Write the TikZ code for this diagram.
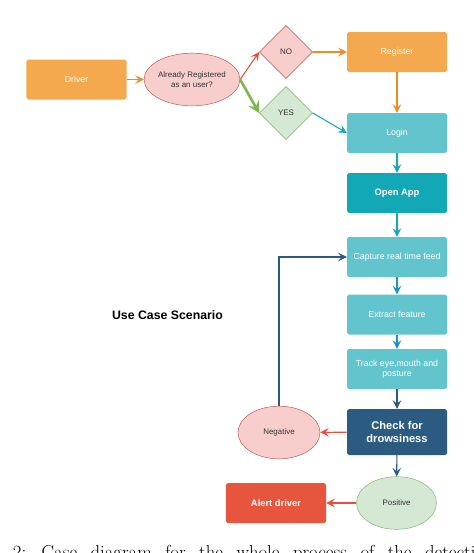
\documentclass[tikz,border=0pt]{standalone}
\usepackage{fontspec}
\newfontfamily\flowfont{Liberation Sans}
\usepackage{tikz}
\usetikzlibrary{shapes.geometric}
\usetikzlibrary{arrows.meta}
\definecolor{boxorange}{HTML}{F4A94F}
\definecolor{arroworange}{HTML}{F08A24}
\definecolor{queryfill}{HTML}{F8CECC}
\definecolor{querystroke}{HTML}{B85450}
\definecolor{answerfill}{HTML}{D5E8D4}
\definecolor{answerstroke}{HTML}{82B366}
\definecolor{lightteal}{HTML}{62C5CD}
\definecolor{darkteal}{HTML}{12A8B6}
\definecolor{nightblue}{HTML}{2B5B80}
\definecolor{alertred}{HTML}{E8553F}
\definecolor{arrowred}{HTML}{E84C3D}
\definecolor{arrowgreen}{HTML}{7DB649}
\definecolor{arrowblue}{HTML}{1A93C9}
\definecolor{labelgray}{HTML}{333333}
\tikzset{flow node/.style={rectangle, rounded corners=1.5pt, fill=#1,
    minimum width=3cm, minimum height=1.2cm, inner sep=1pt, align=center,
    text=white, font=\flowfont\fontsize{7.5}{9}\selectfont}}
\tikzset{strong node/.style={flow node=#1, font=\flowfont\bfseries\fontsize{8}{9.5}\selectfont}}
\tikzset{query node/.style={ellipse, draw=querystroke, fill=queryfill, thin,
    minimum width=2.4cm, minimum height=1.58cm, inner sep=0pt, align=center,
    text=labelgray, font=\flowfont\fontsize{6.8}{8}\selectfont}}
\tikzset{answer node/.style={query node, draw=answerstroke, fill=answerfill}}
\tikzset{decision node/.style={diamond, aspect=1, draw=#1stroke, fill=#1fill, thin,
    minimum size=1.6cm, inner sep=0pt,
    text=labelgray, font=\flowfont\fontsize{6.8}{8}\selectfont}}
\tikzset{regular edge/.style={draw=#1, line width=0.9pt,
    -{Stealth[length=2.6mm, width=2.6mm, inset=1.1mm]}}}

\begin{document}
\begin{tikzpicture}
      [x=0.03cm, y=-0.03cm]
      \useasboundingbox (0,0) rectangle (474,553);

      \node [flow node=boxorange]         (driver)   at ( 76.5, 79.5) {Driver};
      \node [query node]                  (regq)     at (192  , 79.5) {Already Registered\\as an user?};
      \node [decision node=query]         (no)       at (286  , 52  ) {NO};
      \node [decision node=answer]        (yes)      at (286  ,113  ) {YES};
      \node [flow node=boxorange]         (register) at (397  , 52  ) {Register};
      \node [flow node=lightteal]         (login)    at (397  ,133  ) {Login};
      \node [strong node=darkteal]        (openapp)  at (397  ,193  ) {Open App};
      \node [flow node=lightteal]         (capture)  at (397  ,257  ) {Capture real time feed};
      \node [flow node=lightteal]         (extract)  at (397  ,314.5) {Extract feature};
      \node [flow node=lightteal]         (track)    at (397  ,369  ) {Track eye,mouth and\\posture};
      \node [strong node=nightblue, minimum height=1.38cm,
             font=\flowfont\bfseries\fontsize{9.5}{11}\selectfont]
                                          (check)    at (397  ,432  ) {Check for\\drowsiness};
      \node [query node, minimum width=2.46cm] (negative) at (279 ,432.5) {Negative};
      \node [answer node]                 (positive) at (396.5,503  ) {Positive};
      \node [strong node=alertred]        (alert)    at (276  ,503  ) {Alert driver};

      \node [font=\flowfont\bfseries\fontsize{10.5}{12}\selectfont]
                                          (scenario) at (167.5,315  ) {Use Case Scenario};

      \draw [regular edge=arroworange]  (driver)   -- (regq);
      \draw [regular edge=arrowred]     (regq.east) -- (no.west);
      \draw [regular edge=arrowgreen, line width=2.2pt,
             -{Stealth[length=3.4mm, width=3.6mm, inset=1.3mm]}]
                                        (regq.east) -- (yes.west);
      \draw [regular edge=arroworange]  (no)       -- (register);
      \draw [regular edge=arroworange]  (register) -- (login);
      \draw [regular edge=darkteal]     (yes.east) -- (login.west);
      \draw [regular edge=darkteal]     (login)    -- (openapp);
      \draw [regular edge=darkteal]     (openapp)  -- (capture);
      \draw [regular edge=arrowblue]    (capture)  -- (extract);
      \draw [regular edge=arrowblue]    (extract)  -- (track);
      \draw [regular edge=nightblue]    (track)    -- (check);
      \draw [regular edge=arrowred]     (check)    -- (negative);
      \draw [regular edge=nightblue]    (check)    -- (positive);
      \draw [regular edge=arrowred]     (positive) -- (alert);
      \draw [regular edge=nightblue]    (negative.north) |- (capture.west);

      % caption, cut by the page edge as in the scan
      \node [anchor=base west, inner sep=0pt, font=\fontsize{16}{18}\selectfont]
            (caption) at (-30,558) {\spaceskip=0.72em Fig.~2: Case diagram for the whole process of the detection};
    \end{tikzpicture}
\end{document}
